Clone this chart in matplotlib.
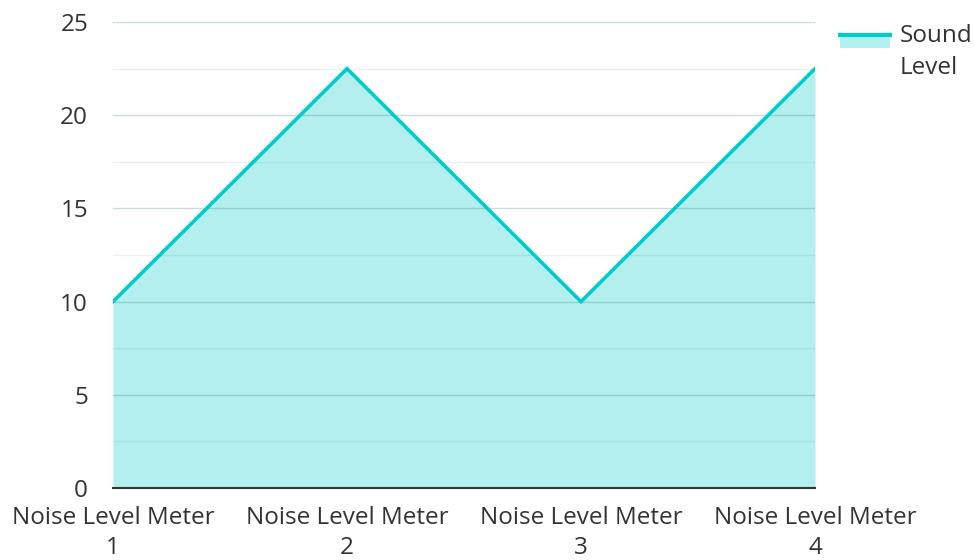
import numpy as np
import matplotlib
matplotlib.use('Agg')
import matplotlib.pyplot as plt
from matplotlib.patches import Rectangle
from matplotlib.lines import Line2D
from matplotlib.legend_handler import HandlerBase

plt.rcParams['font.family'] = ['Open Sans', 'DejaVu Sans']

cats = ['Noise Level Meter\n1', 'Noise Level Meter\n2', 'Noise Level Meter\n3', 'Noise Level Meter\n4']
sound = [10, 22.5, 10, 22.5]
series_name = 'Sound\nLevel'

line_c = '#00cccc'
fill_c = '#b2efee'
fs = 17.5

fig = plt.figure(figsize=(9.75, 5.6), dpi=100)
ax = fig.add_axes([0.1159, 0.1286, 0.72, 0.832])

x = np.arange(len(cats))
ax.fill_between(x, 0, sound, color=fill_c, lw=0, zorder=1)
ax.plot(x, sound, color=line_c, lw=2.6, zorder=3, solid_joinstyle='miter')

ax.set_xlim(0, len(cats) - 1)
ax.set_ylim(0, 25)
ax.set_yticks(range(0, 26, 5))
ax.set_yticks(np.arange(0, 25, 2.5), minor=True)
ax.set_xticks(x)
ax.set_xticklabels(cats)
ax.grid(axis='y', which='major', color='#337777', alpha=0.25, lw=1, zorder=2)
ax.grid(axis='y', which='minor', color='#337777', alpha=0.1, lw=1, zorder=2)
ax.set_axisbelow(False)
for s in ['top', 'right', 'left']:
    ax.spines[s].set_visible(False)
ax.spines['bottom'].set_color('#333333')
ax.spines['bottom'].set_linewidth(1.5)
ax.spines['bottom'].set_zorder(4)
ax.tick_params(axis='both', which='both', length=0, labelsize=fs, colors='#333333')
ax.tick_params(axis='y', pad=18)
ax.tick_params(axis='x', pad=13)
for lbl in ax.get_xticklabels():
    lbl.set_linespacing(1.32)


class AreaHandler(HandlerBase):
    def create_artists(self, legend, orig_handle, xdescent, ydescent, width, height, fontsize, trans):
        y0 = -ydescent + 7.5
        r = Rectangle((-xdescent, y0), width, height, color=fill_c, lw=0, transform=trans)
        ln = Line2D([-xdescent, -xdescent + width], [y0 + height] * 2, color=line_c, lw=3, transform=trans)
        return [r, ln]


leg = fig.legend(['area'], [series_name], loc='upper left', bbox_to_anchor=(0.8615, 0.958),
                 frameon=False, fontsize=fs, handlelength=2.05, handleheight=0.5, handletextpad=0.4,
                 borderpad=0, borderaxespad=0,
                 handler_map={str: AreaHandler()})
for t in leg.get_texts():
    t.set_color('#333333')
    t.set_linespacing(1.45)

fig.savefig('out.png', dpi=100)
